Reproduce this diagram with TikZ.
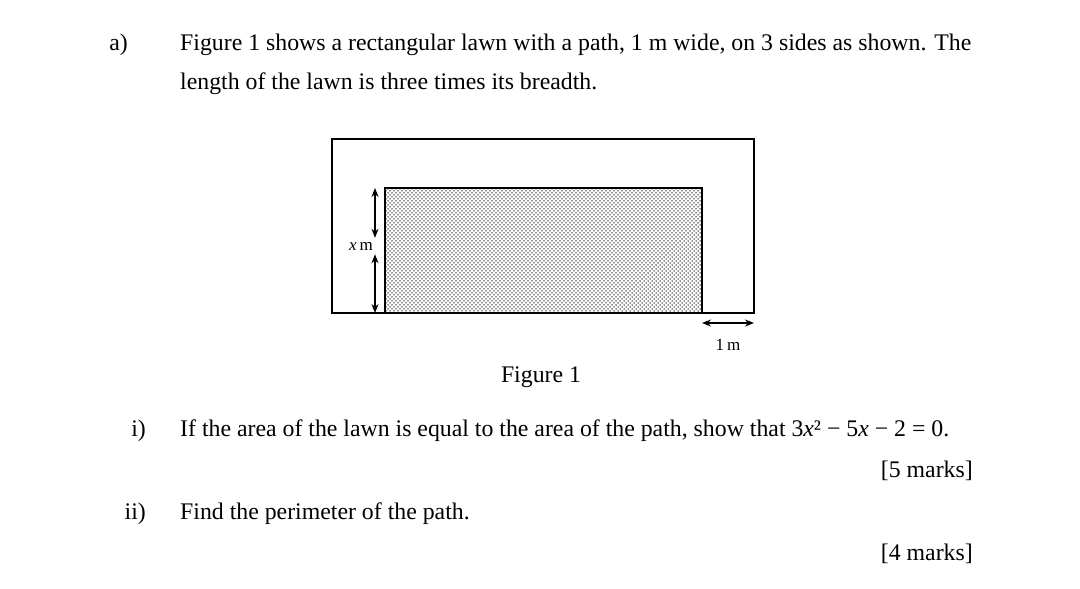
\documentclass[tikz,border=0pt]{standalone}
\usepackage{fontspec}
\setmainfont{Liberation Serif}
\usetikzlibrary{patterns,arrows.meta}
\pgfdeclarepatternformonly{lawndots}{\pgfqpoint{-1pt}{-1pt}}{\pgfqpoint{5pt}{5pt}}{\pgfqpoint{4pt}{4pt}}{%
 \pgfpathcircle{\pgfqpoint{0pt}{0pt}}{0.75pt}
 \pgfpathcircle{\pgfqpoint{2pt}{2pt}}{0.75pt}
 \pgfusepath{fill}}
\begin{document}
\begin{tikzpicture}[x=1pt,y=-1pt,
 txt/.style={anchor=base west,inner sep=0,font=\fontsize{23.8}{28}\selectfont},
 lbl/.style={anchor=base east,inner sep=0,font=\fontsize{23.8}{28}\selectfont},
 rtxt/.style={anchor=base east,inner sep=0,font=\fontsize{23.8}{28}\selectfont},
 small/.style={inner sep=0,font=\fontsize{17}{20}\selectfont},
 dim/.style={{Stealth[length=9pt,width=7pt]}-{Stealth[length=9pt,width=7pt]},line width=1.3pt}]
\useasboundingbox (0,0) rectangle (1080,589);
\node[lbl] (la) at (128,50) {a)};
\node[txt] (t1) at (180,50) {Figure 1 shows a rectangular lawn with a path, 1 m wide, on 3 sides as shown. The};
\node[txt] (t2) at (180,89) {length of the lawn is three times its breadth.};
\draw[line width=1.8pt] (332,139) rectangle (754,313);
\fill[pattern=lawndots, pattern color=black!90] (385,188) rectangle (702,313);
\draw[line width=1.6pt] (385,313) -- (385,188) -- (702,188) -- (702,313);
\coordinate (xa) at (375,188); \coordinate (xb) at (375,313);
\node[small,fill=white,inner sep=4pt] (xm) at (361,246) {\textit{x}\,m};
\draw[dim] (xa) -- (xm.north -| xa);
\draw[dim] (xm.south -| xb) -- (xb);
\coordinate (ma) at (702,323); \coordinate (mb) at (754,323);
\draw[dim] (ma) -- (mb);
\node[small] (om) at (728,345) {1\,m};
\node[txt,anchor=base] (fig) at (541,382) {Figure 1};
\node[lbl] (li) at (146,436) {i)};
\node[txt] (q1) at (180,436) {If the area of the lawn is equal to the area of the path, show that 3\textit{x}² − 5\textit{x} − 2 = 0.};
\node[rtxt] (m5) at (973,477) {[5 marks]};
\node[lbl] (lii) at (146,519) {ii)};
\node[txt] (q2) at (180,519) {Find the perimeter of the path.};
\node[rtxt] (m4) at (973,560) {[4 marks]};
\end{tikzpicture}
\end{document}
